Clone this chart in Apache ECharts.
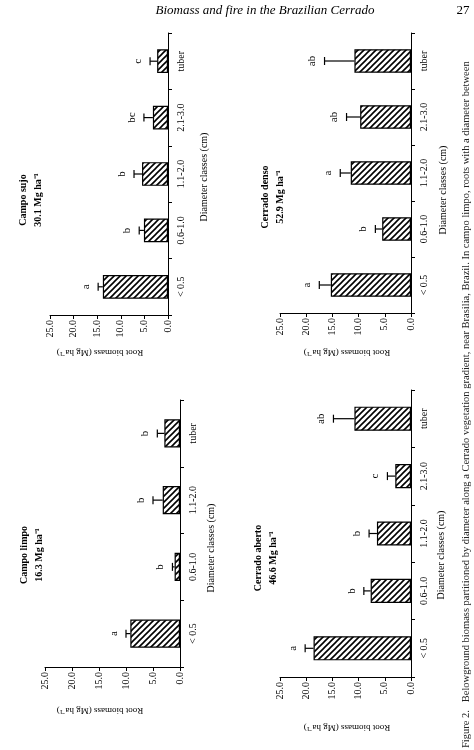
<!DOCTYPE html>
<html><head><meta charset="utf-8">
<script src="https://cdn.jsdelivr.net/npm/echarts@6/dist/echarts.min.js"></script>
<style>html,body{margin:0;padding:0;background:#fff}#c{width:474px;height:750px}</style>
</head><body><div id="c"></div>
<script>
const cats5 = ["< 0.5","0.6-1.0","1.1-2.0","2.1-3.0","tuber"];
const cats4 = ["< 0.5","0.6-1.0","1.1-2.0","tuber"];
const valueTicks = [0,5,10,15,20,25];
// Campo sujo
const sujoVal = [13.8,5.1,5.5,3.2,2.3];
const sujoErr = [14.8,6.1,7.2,5.1,3.8];
const sujoLet = ["a","b","b","bc","c"];
// Cerrado denso
const densoVal = [15.3,5.5,11.5,9.7,10.8];
const densoErr = [17.5,6.8,13.5,12.3,16.5];
const densoLet = ["a","b","a","ab","ab"];
// Campo limpo
const limpoVal = [9.2,1.0,3.2,2.9];
const limpoErr = [10.0,1.4,5.0,4.2];
const limpoLet = ["a","b","b","b"];
// Cerrado aberto
const abertoVal = [18.6,7.7,6.5,3.0,10.8];
const abertoErr = [20.2,9.0,8.0,4.5,14.8];
const abertoLet = ["a","b","b","c","ab"];

const serif = "Liberation Serif";
const hatch = document.createElement('canvas');
hatch.width = 6; hatch.height = 6;
(function(){const g=hatch.getContext('2d');g.fillStyle='#fff';g.fillRect(0,0,6,6);
g.strokeStyle='#000';g.lineWidth=1.6;g.beginPath();
g.moveTo(0,6);g.lineTo(6,0);g.moveTo(-3,3);g.lineTo(3,-3);g.moveTo(3,9);g.lineTo(9,3);g.stroke();})();

const panels = [
 {cats:cats5,val:sujoVal,err:sujoErr,let:sujoLet,grid:{left:50,top:33,width:118,height:282},
  title:["Campo sujo","30.1 Mg ha"],tp:[30,200],rb:[100,352],dc:[204,177]},
 {cats:cats5,val:densoVal,err:densoErr,let:densoLet,grid:{left:280,top:33,width:131,height:280},
  title:["Cerrado denso","52.9 Mg ha"],tp:[272,197],rb:[347,352],dc:[443,190]},
 {cats:cats4,val:limpoVal,err:limpoErr,let:limpoLet,grid:{left:45,top:400,width:135,height:267},
  title:["Campo limpo","16.3 Mg ha"],tp:[31,555],rb:[100,710],dc:[211,548]},
 {cats:cats5,val:abertoVal,err:abertoErr,let:abertoLet,grid:{left:280,top:390,width:131,height:287},
  title:["Cerrado aberto","46.6 Mg ha"],tp:[265,558],rb:[347,727],dc:[441,555]}
];

const grid=[],xAxis=[],yAxis=[],series=[],graphic=[];
panels.forEach((p,i)=>{
  grid.push(p.grid);
  xAxis.push({type:'value',gridIndex:i,min:valueTicks[0],max:valueTicks[valueTicks.length-1],interval:5,inverse:true,
    axisLine:{show:true,lineStyle:{color:'#000',width:1}},axisTick:{show:true,length:4,lineStyle:{color:'#000'}},
    splitLine:{show:false},
    axisLabel:{rotate:90,color:'#000',fontFamily:serif,fontSize:10,margin:5,formatter:v=>v.toFixed(1)}});
  yAxis.push({type:'category',gridIndex:i,data:p.cats,position:'right',
    axisLine:{show:true,lineStyle:{color:'#000',width:1}},axisTick:{show:true,length:4,lineStyle:{color:'#000'}},
    axisLabel:{rotate:90,color:'#000',fontFamily:serif,fontSize:10,margin:8}});
  series.push({type:'bar',xAxisIndex:i,yAxisIndex:i,data:p.val,barWidth:'42%',
    itemStyle:{color:{image:hatch,repeat:'repeat'},borderColor:'#000',borderWidth:1.2}});
  series.push({type:'custom',xAxisIndex:i,yAxisIndex:i,data:p.val.map((v,k)=>[v,k,p.err[k]]),z:5,
    renderItem:(params,api)=>{
      const a=api.coord([api.value(0),api.value(1)]);
      const b=api.coord([api.value(2),api.value(1)]);
      const L=p.let[params.dataIndex];
      return {type:'group',children:[
        {type:'line',shape:{x1:a[0],y1:a[1],x2:b[0],y2:b[1]},style:{stroke:'#000',lineWidth:1.2}},
        {type:'line',shape:{x1:b[0],y1:b[1]-4,x2:b[0],y2:b[1]+4},style:{stroke:'#000',lineWidth:1.2}},
        {type:'text',x:b[0]-12,y:b[1],rotation:Math.PI/2,style:{text:L,fill:'#000',font:'11px '+serif,align:'center',verticalAlign:'middle'}}
      ]};
    }});
  graphic.push({type:'text',x:p.tp[0]-7,y:p.tp[1],rotation:Math.PI/2,style:{text:p.title[0],fill:'#000',font:'bold 10px '+serif,align:'center',verticalAlign:'middle'}});
  graphic.push({type:'text',x:p.tp[0]+8,y:p.tp[1],rotation:Math.PI/2,style:{text:p.title[1]+'⁻¹',fill:'#000',font:'bold 10px '+serif,align:'center',verticalAlign:'middle'}});
  graphic.push({type:'text',x:p.rb[0],y:p.rb[1],rotation:Math.PI,style:{text:'Root biomass (Mg ha⁻¹)',fill:'#000',font:'9px '+serif,align:'center',verticalAlign:'middle'}});
  graphic.push({type:'text',x:p.dc[0],y:p.dc[1],rotation:Math.PI/2,style:{text:'Diameter classes (cm)',fill:'#000',font:'10px '+serif,align:'center',verticalAlign:'middle'}});
});
graphic.push({type:'text',x:265,y:11,style:{text:'Biomass and fire in the Brazilian Cerrado',fill:'#000',font:'italic 13px '+serif,align:'center',verticalAlign:'middle'}});
graphic.push({type:'text',x:463,y:11,style:{text:'27',fill:'#000',font:'13px '+serif,align:'center',verticalAlign:'middle'}});
graphic.push({type:'text',x:466,y:748,rotation:Math.PI/2,style:{text:'Figure 2.   Belowground biomass partitioned by diameter along a Cerrado vegetation gradient, near Brasilia, Brazil. In campo limpo, roots with a diameter between',fill:'#222',font:'10.5px '+serif,align:'left',verticalAlign:'middle'}});

const chart=echarts.init(document.getElementById('c'));
chart.setOption({animation:false,grid,xAxis,yAxis,series,graphic});
</script></body></html>
